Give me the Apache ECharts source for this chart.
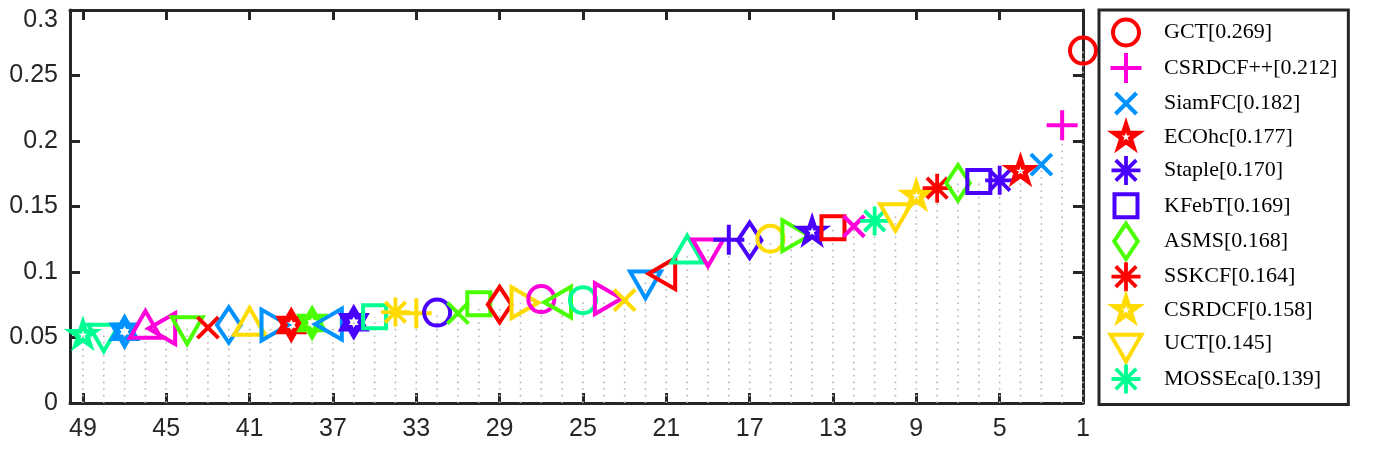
<!DOCTYPE html>
<html><head><meta charset="utf-8">
<script src="https://cdn.jsdelivr.net/npm/echarts@6/dist/echarts.min.js"></script>
<style>html,body{margin:0;padding:0;background:#fff}#chart{width:1388px;height:453px}</style>
</head><body><div id="chart"></div>
<script>
// ---------------- data ----------------
const trackerNames = ['GCT','CSRDCF++','SiamFC','ECOhc','Staple','KFebT','ASMS','SSKCF','CSRDCF','UCT','MOSSEca'];
// EAO score per rank (rank 1 .. 49)
const eaoScores = [
  0.269, 0.212, 0.182, 0.177, 0.170, 0.169, 0.168, 0.164, 0.158, 0.145, 0.139,
  0.1349, 0.1338, 0.1306, 0.1277, 0.1254, 0.1242, 0.1247, 0.118, 0.114, 0.0987,
  0.0935, 0.0785, 0.0797, 0.0785, 0.077, 0.0793, 0.0766, 0.0751, 0.0758, 0.0686,
  0.069, 0.0686, 0.0694, 0.0659, 0.0617, 0.0602, 0.061, 0.0595, 0.0595, 0.0589,
  0.0595, 0.0575, 0.0587, 0.0568, 0.0566, 0.0543, 0.053, 0.0518
];
const xTickLabels = [49, 45, 41, 37, 33, 29, 25, 21, 17, 13, 9, 5, 1];

// ---------------- styles ----------------
const palette = ['#FF0000','#FFDB00','#49FF00','#00FF92','#0092FF','#4900FF','#FF00DB'];
const markerKinds = ['o','+','x','p','*','s','d','*','p','v','*','x','s','p','>','o','d','+','v','^','<',
  'v','x','>','o','<','o','>','d','s','x','o','+','*','s','h','<','h','h','>','^','d','x','v','<','^','h','v','p'];
const markerColorIdx = [0,6,4,0,5,5,2,0,1,1,3,6,0,5,2,1,5,5,6,3,0,
  4,1,6,3,2,6,1,0,2,2,5,1,1,3,5,4,2,0,4,1,4,0,2,6,6,4,3,3];

const FRAME = 'M0 0M40 40';
function poly(pts){ return 'M' + pts.map(p => p[0].toFixed(2) + ' ' + p[1].toFixed(2)).join('L') + 'Z'; }
function star(n, R, r, reverse){
  const pts = [];
  for (let k = 0; k < 2 * n; k++) {
    const rho = k % 2 ? r : R, a = k * Math.PI / n;
    pts.push([20 + rho * Math.sin(a), 20 - rho * Math.cos(a)]);
  }
  if (reverse) pts.reverse();
  return poly(pts);
}
function tri(r, dir){
  const pts = [];
  for (let k = 0; k < 3; k++) {
    const a = (dir + 120 * k) * Math.PI / 180;
    pts.push([20 + r * Math.sin(a), 20 - r * Math.cos(a)]);
  }
  return poly(pts);
}
const d45 = 14.5 * Math.SQRT1_2;
const SHAPES = {
  'o': {p: 'M33 20A13 13 0 1 1 7 20A13 13 0 1 1 33 20Z', fill: false, lw: 4},
  '+': {p: 'M4.5 20L35.5 20M20 5L20 35', fill: false, lw: 4},
  'x': {p: 'M9.5 9.5L30.5 30.5M30.5 9.5L9.5 30.5', fill: false, lw: 4},
  '*': {p: 'M5.5 20L34.5 20M20 5.5L20 34.5M' + (20-d45) + ' ' + (20-d45) + 'L' + (20+d45) + ' ' + (20+d45) +
          'M' + (20+d45) + ' ' + (20-d45) + 'L' + (20-d45) + ' ' + (20+d45), fill: false, lw: 3.8},
  's': {p: 'M8.5 8.5L31.5 8.5L31.5 31.5L8.5 31.5Z', fill: false, lw: 4},
  'd': {p: 'M20 2.3L31.8 20L20 37.7L8.2 20Z', fill: false, lw: 4},
  '^': {p: tri(17.8, 0), fill: false, lw: 4},
  'v': {p: tri(17.8, 180), fill: false, lw: 4},
  '>': {p: tri(17.8, 90), fill: false, lw: 4},
  '<': {p: tri(17.8, 270), fill: false, lw: 4},
  'p': {p: star(5, 20, 7.64) + star(5, 4.6, 1.76, true), fill: true, lw: 0},
  'h': {p: star(6, 18.5, 10.68) + star(6, 5.5, 3.18, true), fill: true, lw: 0}
};
function markerStyle(i){
  const s = SHAPES[markerKinds[i]], c = palette[markerColorIdx[i]];
  return {
    symbol: 'path://' + FRAME + s.p,
    itemStyle: s.fill
      ? {color: c, borderWidth: 0, opacity: 1}
      : {color: 'rgba(0,0,0,0)', borderColor: c, borderWidth: s.lw, borderJoin: 'miter', borderMiterLimit: 10, opacity: 1}
  };
}

const ranks = eaoScores.map((_, i) => i + 1);
const seriesLabel = i => trackerNames[i] + '[' + eaoScores[i].toFixed(3) + ']';

const axisColor = '#262626';
const labelFont = {fontFamily: 'Liberation Sans', fontSize: 25, color: axisColor};

const restData = [];
for (let i = eaoScores.length - 1; i >= trackerNames.length; i--) {
  const st = markerStyle(i);
  restData.push({value: [ranks[i], eaoScores[i]], symbol: st.symbol, itemStyle: st.itemStyle});
}

const series = [
  {
    type: 'custom', z: 1, silent: true,
    data: ranks.map((r, i) => [r, eaoScores[i]]),
    renderItem: (params, api) => {
      const p0 = api.coord([api.value(0), 0]);
      const p1 = api.coord([api.value(0), api.value(1)]);
      return {type: 'line', shape: {x1: p0[0], y1: p0[1], x2: p1[0], y2: p1[1]},
              style: {stroke: '#b4b4b4', lineWidth: 1.6, lineDash: [1.6, 5]}};
    }
  },
  {type: 'scatter', z: 2, symbolSize: 40, data: restData, itemStyle: {opacity: 1}, emphasis: {disabled: true}, silent: true}
];
for (let i = trackerNames.length - 1; i >= 0; i--) {
  const st = markerStyle(i);
  series.push({
    type: 'scatter', z: 2, name: seriesLabel(i), symbol: st.symbol, symbolSize: 40,
    itemStyle: st.itemStyle, emphasis: {disabled: true}, silent: true,
    data: [[ranks[i], eaoScores[i]]]
  });
}

const xCommon = {
  type: 'value', inverse: true, min: 1, max: 49.62,
  axisLine: {onZero: false, lineStyle: {color: axisColor, width: 3}},
  axisTick: {inside: true, length: 10, customValues: xTickLabels, lineStyle: {color: axisColor, width: 3}},
  splitLine: {show: false}
};
const yCommon = {
  type: 'value', min: 0, max: 0.3, interval: 0.05,
  axisLine: {show: true, onZero: false, lineStyle: {color: axisColor, width: 3}},
  axisTick: {show: true, inside: true, length: 10, lineStyle: {color: axisColor, width: 3}},
  splitLine: {show: false}
};

const chart = echarts.init(document.getElementById('chart'), null, {renderer: 'canvas'});
chart.setOption({
  animation: false,
  backgroundColor: '#ffffff',
  grid: {left: 70, right: 305, top: 10, bottom: 50, containLabel: false, outerBoundsMode: 'none'},
  xAxis: [
    Object.assign({}, xCommon, {position: 'bottom',
      axisLabel: Object.assign({customValues: xTickLabels, margin: 14}, labelFont)}),
    Object.assign({}, xCommon, {position: 'top', axisLabel: {show: false}})
  ],
  yAxis: [
    Object.assign({}, yCommon, {position: 'left',
      axisLabel: Object.assign({
        margin: 12,
        formatter: v => Math.abs(v - 0.3) < 1e-9 ? '{top|0.3}' : String(parseFloat(v.toFixed(2))),
        rich: {top: Object.assign({padding: [20, 0, 0, 0]}, labelFont)}
      }, labelFont)}),
    Object.assign({}, yCommon, {position: 'right', axisLabel: {show: false}})
  ],
  legend: {
    orient: 'vertical', left: 1099, top: 10,
    padding: [0.5, 11, 3.5, 5],
    itemWidth: 66, itemHeight: 40, itemGap: -8.5,
    borderColor: axisColor, borderWidth: 3, borderRadius: 0,
    selectedMode: false,
    itemStyle: {borderWidth: 'inherit', opacity: 1},
    textStyle: {fontFamily: 'Liberation Serif', fontSize: 22, color: '#000'},
    data: trackerNames.map((n, i) => ({
      name: seriesLabel(i),
      itemStyle: {borderWidth: SHAPES[markerKinds[i]].lw}
    }))
  },
  series: series
});
</script>
</body></html>
